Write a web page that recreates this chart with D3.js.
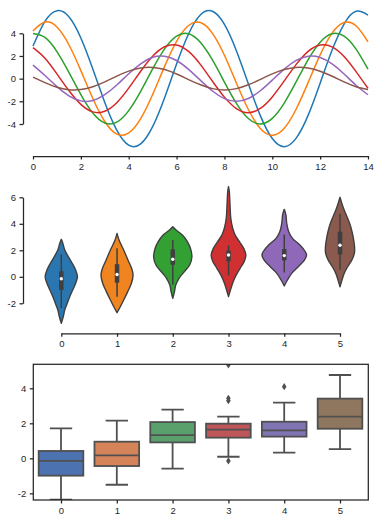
<!DOCTYPE html>
<html><head><meta charset="utf-8">
<script src="https://cdn.jsdelivr.net/npm/d3@7"></script>
<style>
body{margin:0;background:#fff}
svg{display:block}
</style>
</head><body>
<svg width="380" height="523"></svg>
<script>
// ---------- DATA ----------
const sineX = [0,0.5,1,1.5,2,2.5,3,3.5,4,4.5,5,5.5,6,6.5,7,7.5,8,8.5,9,9.5,10,10.5,11,11.5,12,12.5,13,13.5,14];
const sine1 = [2.88,5.05,5.99,5.46,3.59,0.85,-2.10,-4.54,-5.87,-5.75,-4.23,-1.68,1.29,3.94,5.63,5.94,4.79,2.47,-0.45,-3.26,-5.28,-6.00,-5.25,-3.22,-0.40,2.52,4.82,5.94,5.61];
const sine2 = [4.21,4.99,4.55,2.99,0.71,-1.75,-3.78,-4.89,-4.79,-3.53,-1.40,1.08,3.29,4.69,4.95,3.99,2.06,-0.38,-2.72,-4.40,-5.00,-4.38,-2.68,-0.33,2.10,4.02,4.95,4.67,3.25];
const sine3 = [3.99,3.64,2.39,0.56,-1.40,-3.03,-3.91,-3.84,-2.82,-1.12,0.86,2.63,3.75,3.96,3.19,1.65,-0.30,-2.18,-3.52,-4.00,-3.50,-2.15,-0.27,1.68,3.22,3.96,3.74,2.60,0.83];
const sine4 = [2.73,1.80,0.42,-1.05,-2.27,-2.93,-2.88,-2.12,-0.84,0.65,1.97,2.81,2.97,2.40,1.24,-0.23,-1.63,-2.64,-3.00,-2.63,-1.61,-0.20,1.26,2.41,2.97,2.80,1.95,0.62,-0.86];
const sine5 = [1.20,0.28,-0.70,-1.51,-1.96,-1.92,-1.41,-0.56,0.43,1.31,1.88,1.98,1.60,0.82,-0.15,-1.09,-1.76,-2.00,-1.75,-1.07,-0.13,0.84,1.61,1.98,1.87,1.30,0.41,-0.58,-1.42];
const sine6 = [0.14,-0.35,-0.76,-0.98,-0.96,-0.71,-0.28,0.22,0.66,0.94,0.99,0.80,0.41,-0.08,-0.54,-0.88,-1.00,-0.88,-0.54,-0.07,0.42,0.80,0.99,0.93,0.65,0.21,-0.29,-0.71,-0.96];
const topXTicks = [0,2,4,6,8,10,12,14];
const topYTicks = [-4,-2,0,2,4];

const categories = ["0","1","2","3","4","5"];
// violin profiles: [value, relative density]
const violin0 = [[2.83,0],[2.53,0.067],[2.02,0.156],[1.52,0.311],[1.02,0.489],[0.51,0.644],[0,0.724],[-0.49,0.644],[-1.0,0.511],[-1.5,0.378],[-2.0,0.267],[-2.5,0.156],[-3.0,0.089],[-3.51,0]];
const violin1 = [[3.28,0],[2.78,0.089],[2.02,0.298],[1.27,0.489],[0.64,0.653],[0.14,0.72],[-0.49,0.644],[-1.12,0.48],[-1.75,0.298],[-2.26,0.147],[-2.71,0]];
const violin2 = [[3.78,0],[3.53,0.147],[3.15,0.431],[2.65,0.653],[2.15,0.791],[1.52,0.858],[0.89,0.756],[0.39,0.52],[-0.11,0.28],[-0.62,0.133],[-1.12,0.076],[-1.62,0]];
const violin3 = [[6.8,0],[6.42,0.036],[5.42,0.067],[4.41,0.102],[3.66,0.187],[3.15,0.298],[2.65,0.489],[2.15,0.68],[1.65,0.778],[1.14,0.702],[0.64,0.52],[0.14,0.347],[-0.37,0.209],[-0.87,0.111],[-1.5,0]];
const violin4 = [[5.09,0],[4.66,0.076],[4.04,0.111],[3.4,0.2],[2.9,0.369],[2.4,0.702],[1.89,0.947],[1.65,1],[1.27,0.911],[0.76,0.631],[0.26,0.333],[-0.24,0.142],[-0.69,0]];
const violin5 = [[6.0,0],[5.55,0.08],[5.04,0.187],[4.54,0.311],[4.04,0.431],[3.53,0.52],[2.9,0.6],[2.27,0.653],[1.77,0.644],[1.27,0.533],[0.76,0.342],[0.26,0.187],[-0.24,0.089],[-0.75,0]];
const violinYTicks = [-2,0,2,4,6];

// box statistics
const boxQ1 = [-0.99,-0.44,0.91,1.18,1.24,1.69];
const boxMedian = [-0.15,0.17,1.33,1.64,1.60,2.38];
const boxQ3 = [0.42,0.95,2.07,1.98,2.09,3.41];
const whiskerLow = [-2.36,-1.51,-0.59,0.09,0.32,0.53];
const whiskerHigh = [1.71,2.15,2.78,2.38,3.18,4.76];
const outliers = [[],[],[],[5.33,3.43,3.29,-0.15],[4.09],[]];
const boxYTicks = [-2,0,2,4];

// ---------- STYLE ----------
const lineColors = ["#1f77b4","#ff7f0e","#2ca02c","#d62728","#9467bd","#8c564b"];
const violinColors = ["#2a76b0","#ef8420","#32a033","#d03032","#9068ba","#8a5a4e"];
const boxColors = ["#4c72b0","#d5845a","#5aa06c","#be5558","#8174b4","#8f765f"];
const ink = "#262626";
const gray = "#3f3f3f";
const boxGray = "#505050";
const font = "'Liberation Sans', Arial, sans-serif";

const svg = d3.select("svg");

function styleAxis(g){
  g.attr("font-family", font).attr("font-size", 9.5);
  g.selectAll(".domain").attr("stroke", ink).attr("stroke-width", 1.25);
  g.selectAll(".tick line").attr("stroke", ink).attr("stroke-width", 1.25);
  g.selectAll(".tick text").attr("fill", ink);
}

// ---------- PANEL 1: sine lines ----------
const x1 = d3.scaleLinear().domain([0,14]).range([33,368]);
const y1 = d3.scaleLinear().domain([-4,4]).range([124,33.3]);
const p1 = svg.append("g");
const sines = [sine1,sine2,sine3,sine4,sine5,sine6];
sines.forEach((s,i)=>{
  const ln = d3.line().x((d,j)=>x1(sineX[j])).y(d=>y1(d)).curve(d3.curveNatural);
  p1.append("path").attr("d", ln(s)).attr("fill","none")
    .attr("stroke", lineColors[i]).attr("stroke-width",1.5);
});
p1.append("g").attr("transform","translate(0,156)")
  .call(d3.axisBottom(x1).tickValues(topXTicks).tickSize(3.5).tickPadding(3.5).tickSizeOuter(0).tickFormat(d=>String(d)))
  .call(styleAxis);
p1.append("g").attr("transform","translate(23,0)")
  .call(d3.axisLeft(y1).tickValues(topYTicks).tickSize(3.5).tickPadding(3.5).tickSizeOuter(0).tickFormat(d=>String(d)))
  .call(styleAxis);

// ---------- PANEL 2: violins ----------
const x2 = d3.scalePoint().domain(categories).range([61.3,340]);
const y2 = d3.scaleLinear().domain([-2,6]).range([303.3,197.3]);
const w2 = d3.scaleLinear().domain([0,1]).range([0, 0.4*x2.step()]);
const p2 = svg.append("g");
const violins = [violin0,violin1,violin2,violin3,violin4,violin5];
violins.forEach((v,i)=>{
  const cx = x2(categories[i]);
  const ar = d3.area().y(d=>y2(d[0])).x0(d=>cx - w2(d[1])).x1(d=>cx + w2(d[1])).curve(d3.curveCatmullRom);
  p2.append("path").attr("d", ar(v)).attr("fill", violinColors[i])
    .attr("stroke", gray).attr("stroke-width",1.4).attr("stroke-linejoin","round");
  p2.append("line").attr("x1",cx).attr("x2",cx)
    .attr("y1",y2(whiskerLow[i])).attr("y2",y2(whiskerHigh[i]))
    .attr("stroke",gray).attr("stroke-width",1.5);
  p2.append("line").attr("x1",cx).attr("x2",cx)
    .attr("y1",y2(boxQ1[i])).attr("y2",y2(boxQ3[i]))
    .attr("stroke",gray).attr("stroke-width",4.5);
  p2.append("circle").attr("cx",cx).attr("cy",y2(boxMedian[i])).attr("r",1.7).attr("fill","#fff");
});
p2.append("g").attr("transform","translate(0,333.3)")
  .call(d3.axisBottom(x2).tickSize(3.5).tickPadding(3.5).tickSizeOuter(0))
  .call(styleAxis);
p2.append("g").attr("transform","translate(23,0)")
  .call(d3.axisLeft(y2).tickValues(violinYTicks).tickSize(3.5).tickPadding(3.5).tickSizeOuter(0).tickFormat(d=>String(d)))
  .call(styleAxis);

// ---------- PANEL 3: boxplots ----------
const left3 = 33.3, right3 = 368.3, top3 = 364.3, bottom3 = 500;
const x3 = d3.scalePoint().domain(categories).range([61,340]);
const y3 = d3.scaleLinear().domain([-2.38,5.37]).range([bottom3, top3]);
const p3 = svg.append("g");
svg.append("defs").append("clipPath").attr("id","clip3")
  .append("rect").attr("x",left3).attr("y",top3).attr("width",right3-left3).attr("height",bottom3-top3);
const body3 = p3.append("g").attr("clip-path","url(#clip3)");
const bw = 0.8*x3.step();
categories.forEach((c,i)=>{
  const cx = x3(c);
  const lineAttrs = sel => sel.attr("stroke",boxGray).attr("stroke-width",1.8);
  body3.append("line").attr("x1",cx).attr("x2",cx).attr("y1",y3(boxQ3[i])).attr("y2",y3(whiskerHigh[i])).call(lineAttrs);
  body3.append("line").attr("x1",cx).attr("x2",cx).attr("y1",y3(boxQ1[i])).attr("y2",y3(whiskerLow[i])).call(lineAttrs);
  body3.append("line").attr("x1",cx-bw/4).attr("x2",cx+bw/4).attr("y1",y3(whiskerHigh[i])).attr("y2",y3(whiskerHigh[i])).call(lineAttrs);
  body3.append("line").attr("x1",cx-bw/4).attr("x2",cx+bw/4).attr("y1",y3(whiskerLow[i])).attr("y2",y3(whiskerLow[i])).call(lineAttrs);
  body3.append("rect").attr("x",cx-bw/2).attr("width",bw)
    .attr("y",y3(boxQ3[i])).attr("height",y3(boxQ1[i])-y3(boxQ3[i]))
    .attr("fill",boxColors[i]).call(lineAttrs);
  body3.append("line").attr("x1",cx-bw/2).attr("x2",cx+bw/2).attr("y1",y3(boxMedian[i])).attr("y2",y3(boxMedian[i])).call(lineAttrs);
  outliers[i].forEach(o=>{
    const oy = y3(o);
    body3.append("path").attr("d",`M${cx},${oy-3.6}L${cx+2.3},${oy}L${cx},${oy+3.6}L${cx-2.3},${oy}Z`)
      .attr("fill",boxGray);
  });
});
p3.append("rect").attr("x",left3).attr("y",top3).attr("width",right3-left3).attr("height",bottom3-top3)
  .attr("fill","none").attr("stroke",ink).attr("stroke-width",1.25);
const ax3 = p3.append("g").attr("transform",`translate(0,${bottom3})`)
  .call(d3.axisBottom(x3).tickSize(3.5).tickPadding(3.5).tickSizeOuter(0))
  .call(styleAxis);
ax3.select(".domain").remove();
const ay3 = p3.append("g").attr("transform",`translate(${left3},0)`)
  .call(d3.axisLeft(y3).tickValues(boxYTicks).tickSize(3.5).tickPadding(3.5).tickSizeOuter(0).tickFormat(d=>String(d)))
  .call(styleAxis);
ay3.select(".domain").remove();
</script>
</body></html>
